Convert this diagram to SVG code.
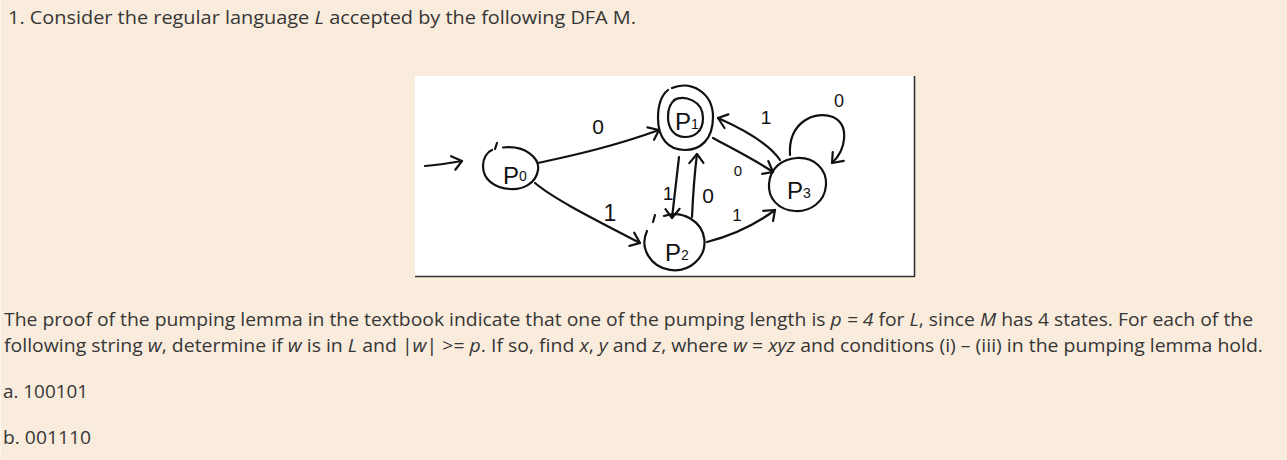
<svg xmlns="http://www.w3.org/2000/svg" width="1287" height="460" viewBox="0 0 1287 460">
  <style>
    .para { font-family: "Open Sans", "Noto Sans", "Liberation Sans", sans-serif; font-size: 19px; fill: #363636; }
    .it { font-style: italic; }
    .ink { fill: none; stroke: #111111; stroke-width: 2.2; stroke-linecap: round; stroke-linejoin: round; }
    .edge { fill: none; stroke: #111111; stroke-width: 2.2; stroke-linecap: round; stroke-linejoin: round; marker-end: url(#head); }
    .lbl { font-family: "Liberation Sans", "DejaVu Sans", sans-serif; fill: #111111; text-anchor: middle; }
    .nl { font-family: "Liberation Sans", "DejaVu Sans", sans-serif; fill: #111111; font-size: 24px; }
    .sub { font-size: 14px; }
  </style>
  <defs>
    <marker id="head" viewBox="-13 -10 15 20" refX="0" refY="0" markerWidth="15" markerHeight="20" markerUnits="userSpaceOnUse" orient="auto">
      <path d="M-10,-6.5 L0,0 L-8,7.5" fill="none" stroke="#111111" stroke-width="2.2" stroke-linecap="round" stroke-linejoin="round"/>
    </marker>
  </defs>

  <rect x="0" y="0" width="1287" height="460" fill="#faecdd"/>
  <rect x="0" y="0" width="1" height="460" fill="#fcf5ec"/>

  <text class="para" x="8" y="24" textLength="628" lengthAdjust="spacingAndGlyphs">1. Consider the regular language <tspan class="it">L</tspan> accepted by the following DFA M.</text>

  <!-- diagram picture frame -->
  <g id="frame">
    <rect x="415" y="76" width="499.5" height="200" fill="#ffffff"/>
    <line x1="914.5" y1="76" x2="914.5" y2="277" stroke="#333333" stroke-width="1.6"/>
    <line x1="415" y1="276.5" x2="915" y2="276.5" stroke="#333333" stroke-width="1.6"/>
  </g>

  <g id="node-p0">
    <path class="ink" d="M503,147.5 C525,145 540,158 538,170 C536,184 522,190 510,189 C495,188 483,180 483,166 C483,158 487,152 492,150"/>
    <path class="ink" d="M497,143 L495,149"/>
    <text class="nl" x="503" y="184" font-size="25">P<tspan class="sub" dy="-3" font-size="15">0</tspan></text>
  </g>

  <g id="node-p1">
    <path class="ink" d="M672,88 C690,80 713,92 713,117 C713,140 700,150 685,150 C668,150 658,138 658,118 C658,103 663,94 668,90"/>
    <path class="ink" d="M674,100 C684,95 703,100 703,118 C703,132 694,137 685,137 C674,137 668,128 668,117 C668,108 671,102 676,99"/>
    <text class="nl" x="675" y="130" font-size="21">P<tspan class="sub" dy="-1" font-size="12">1</tspan></text>
  </g>

  <g id="node-p2">
    <path class="ink" d="M664,216 A30,28 0 1 1 647,231"/>
    <path class="ink" d="M655,215 L653,222"/>
    <text class="nl" x="665" y="261">P<tspan class="sub" dy="-1" font-size="15">2</tspan></text>
  </g>

  <g id="node-p3">
    <path class="ink" d="M797,158 C815,157 827,170 826,185 C825,202 810,212 795,211 C778,210 768,198 769,184 C770,168 782,159 797,158 Z"/>
    <text class="nl" x="787" y="199">P<tspan class="sub" dy="-1" font-size="15">3</tspan></text>
  </g>

  <g id="connectors">
    <path class="edge" d="M425,166 C437,165 450,163 462,161"/>
    <path class="edge" d="M538,163 C575,155 615,146 659,130"/>
    <path class="edge" d="M535,183 C555,200 600,222 640,243"/>
    <path class="edge" d="M679,157 L672,218"/>
    <path class="edge" d="M692,217 C693,195 695,170 697,154"/>
    <path class="edge" d="M713,138 C735,150 755,160 773,172"/>
    <path class="edge" d="M780,160 C770,145 745,130 718,118"/>
    <path class="edge" d="M790,155 C788,122 815,110 833,117 C850,125 846,150 832,163"/>
    <path class="edge" d="M707,242 C730,236 755,225 775,210"/>

    <text class="lbl" x="598" y="134" font-size="21">0</text>
    <text class="lbl" x="610" y="221" font-size="23">1</text>
    <text class="lbl" x="668" y="200" font-size="19">1</text>
    <text class="lbl" x="708" y="203" font-size="21">0</text>
    <text class="lbl" x="738" y="176" font-size="15">0</text>
    <text class="lbl" x="766" y="124" font-size="19">1</text>
    <text class="lbl" x="839" y="107" font-size="18">0</text>
    <text class="lbl" x="737" y="221" font-size="17">1</text>
  </g>

  <text class="para" x="4" y="326" textLength="1249" lengthAdjust="spacingAndGlyphs">The proof of the pumping lemma in the textbook indicate that one of the pumping length is <tspan class="it">p = 4</tspan> for <tspan class="it">L</tspan>, since <tspan class="it">M</tspan> has 4 states. For each of the</text>
  <text class="para" x="4" y="352" textLength="1259" lengthAdjust="spacingAndGlyphs">following string <tspan class="it">w</tspan>, determine if <tspan class="it">w</tspan> is in <tspan class="it">L</tspan> and |<tspan class="it">w</tspan>| &gt;= <tspan class="it">p</tspan>. If so, find <tspan class="it">x</tspan>, <tspan class="it">y</tspan> and <tspan class="it">z</tspan>, where <tspan class="it">w</tspan> = <tspan class="it">xyz</tspan> and conditions (i) – (iii) in the pumping lemma hold.</text>
  <text class="para" x="3" y="398" textLength="85" lengthAdjust="spacingAndGlyphs">a. 100101</text>
  <text class="para" x="3" y="444" textLength="88" lengthAdjust="spacingAndGlyphs">b. 001110</text>
</svg>
